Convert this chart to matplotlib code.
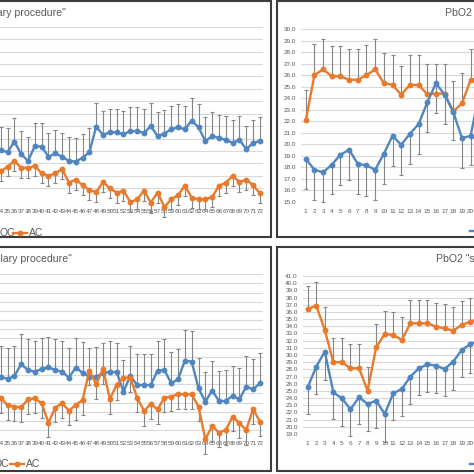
import numpy as np
import matplotlib
matplotlib.use("Agg")
import matplotlib.pyplot as plt
from matplotlib.patches import Rectangle
from matplotlib.lines import Line2D

plt.rcParams['font.family'] = ['Liberation Sans', 'DejaVu Sans']

# ---------------- data ----------------
# left panels (visible part: visits 34..72)
left_x = list(range(34, 73))

tl_oc = [20.07, 19.9, 20.75, 19.75, 19.2, 20.4, 20.35, 19.55, 19.8, 19.55,
         19.2, 19.15, 19.45, 19.9, 21.95, 21.3, 21.5, 21.5, 21.35, 21.6,
         21.6, 21.45, 22.0, 21.2, 21.4, 21.75, 21.9, 21.75, 22.45, 21.9,
         20.8, 21.2, 21.05, 20.9, 20.65, 20.9, 20.15, 20.65, 20.8]
tl_oc_sd = [1.9, 1.93, 1.93, 1.88, 1.93, 1.88, 1.88, 1.88, 1.88, 1.93,
            1.93, 1.93, 1.88, 1.93, 1.88, 1.88, 1.88, 1.9, 1.9, 1.9,
            1.9, 1.9, 1.9, 1.9, 1.93, 1.88, 1.88, 1.88, 1.85, 1.85,
            1.93, 1.9, 1.88, 1.88, 1.88, 1.88, 1.88, 1.88, 1.9]
tl_ac = [18.35, 18.75, 19.2, 18.65, 18.65, 18.8, 18.2, 18.0, 18.2, 18.55,
         17.45, 17.7, 17.25, 16.85, 16.7, 17.5, 17.0, 16.65, 16.8, 15.9,
         16.1, 16.8, 15.85, 16.65, 15.5, 16.1, 16.45, 17.2, 16.25, 16.1,
         16.1, 16.3, 17.2, 17.45, 18.0, 17.5, 17.7, 17.25, 16.6]
tl_ac_sd = [0.8] * len(left_x)

bl_oc = [26.84, 26.58, 26.91, 28.18, 27.56, 27.38, 27.67, 27.85, 27.56, 27.38,
         26.73, 27.82, 27.27, 26.84, 26.84, 27.2, 27.38, 27.31, 25.2, 26.91,
         25.93, 25.93, 25.93, 27.49, 27.56, 26.11, 26.55, 28.58, 28.47, 25.56,
         24.11, 25.31, 24.18, 24.18, 24.76, 24.36, 25.75, 25.45, 26.11]
bl_oc_sd = [3.3, 3.35, 3.27, 3.27, 3.35, 3.38, 3.35, 3.35, 3.35, 3.38,
            3.27, 3.2, 3.31, 3.16, 3.27, 3.27, 3.31, 3.24, 3.45, 3.27,
            3.35, 3.35, 3.35, 3.24, 3.35, 3.38, 3.35, 3.35, 3.35, 3.35,
            3.27, 3.27, 3.31, 3.38, 3.27, 3.38, 3.35, 3.31, 3.3]
bl_ac = [24.47, 23.75, 23.56, 23.49, 24.36, 24.47, 23.93, 21.82, 23.45, 23.93,
         23.13, 23.75, 24.29, 27.49, 26.0, 27.67, 24.4, 25.93, 26.73, 26.73,
         24.55, 23.09, 23.85, 23.27, 24.55, 24.65, 24.95, 24.91, 24.91, 23.56,
         20.0, 21.45, 20.73, 21.02, 22.47, 21.75, 21.02, 23.31, 21.93]
bl_ac_sd = [1.6] * len(left_x)

# right panels (visible part: visits 1..21)
right_x = list(range(1, 22))

tr_ac = [22.07, 26.0, 26.5, 25.9, 25.9, 25.6, 25.6, 26.0, 26.5, 25.3,
         25.15, 24.3, 25.15, 25.15, 24.35, 24.4, 24.4, 22.85, 23.55, 25.6, 25.7]
tr_ac_sd = [2.63, 2.7, 2.6, 2.6, 2.6, 2.65, 2.65, 2.6, 2.6, 2.6,
            2.6, 2.5, 2.6, 2.6, 2.6, 2.6, 2.55, 2.6, 2.6, 2.65, 2.6]
tr_oc = [18.75, 17.8, 17.57, 18.23, 19.1, 19.53, 18.3, 18.17, 17.8, 19.18,
         20.74, 19.96, 20.91, 21.75, 23.63, 25.3, 24.3, 22.8, 20.54, 20.74, 24.5]
tr_oc_sd = [2.62, 2.6, 2.6, 2.53, 2.6, 2.65, 2.6, 2.62, 2.6, 2.58,
            2.59, 2.59, 2.61, 2.57, 2.6, 2.54, 2.52, 2.4, 2.59, 2.57, 2.6]

br_ac = [36.4, 36.87, 33.48, 28.98, 28.98, 28.15, 28.15, 25.04, 31.07, 32.93,
         32.79, 32.09, 34.41, 34.41, 34.41, 33.95, 33.71, 33.39, 34.18, 34.64, 35.0]
br_ac_sd = [3.25, 3.33, 3.25, 3.34, 3.34, 3.34, 3.34, 3.34, 3.25, 3.24,
            3.24, 3.25, 3.25, 3.25, 3.25, 3.34, 3.35, 3.34, 3.34, 3.26, 3.3]
br_oc = [25.5, 28.38, 30.47, 24.8, 23.97, 22.44, 24.11, 23.18, 23.65, 21.79,
         24.67, 25.27, 26.99, 28.15, 28.7, 28.52, 28.05, 29.07, 30.7, 31.49, 32.0]
br_oc_sd = [3.71, 3.85, 3.95, 3.75, 3.81, 3.71, 3.76, 3.76, 3.76, 3.85,
            3.72, 3.71, 3.81, 3.72, 3.8, 3.76, 3.75, 3.94, 3.8, 3.95, 3.8]

left_title = 'PbO2 "axillary procedure"'
right_title = 'PbO2 "saphenous procedure"'
labels = ['OC', 'AC']

BLUE = '#4F86C2'
ORANGE = '#E97A2C'
ERR = '#858585'
GRID = '#D9D9D9'
TXT = '#595959'
EDGE = '#3C3C3C'

W = H = 474.0
fig = plt.figure(figsize=(4.74, 4.74), dpi=100)
fig.patch.set_facecolor('white')


def px_axes(x0, y0, x1, y1):
    # pixel box (top-left origin) -> figure axes
    return fig.add_axes([x0 / W, 1 - y1 / H, (x1 - x0) / W, (y1 - y0) / H])


def frame(x0, y0, x1, y1):
    fig.patches.append(Rectangle((x0 / W, 1 - y1 / H), (x1 - x0) / W, (y1 - y0) / H,
                                 transform=fig.transFigure, facecolor='white',
                                 edgecolor=EDGE, lw=1.5, zorder=-5))


def draw(ax, x, up, up_sd, lo, lo_sd, up_color, lo_color, ylim, xlim, show_y):
    up = np.array(up)
    lo = np.array(lo)
    x = np.array(x)
    # upper series gets plus bars, lower series minus bars
    ax.errorbar(x, up, yerr=[np.zeros(len(x)), up_sd], fmt='none', ecolor=ERR,
                elinewidth=0.8, capsize=1.5, capthick=0.8, zorder=2, clip_on=False)
    ax.errorbar(x, lo, yerr=[lo_sd, np.zeros(len(x))], fmt='none', ecolor=ERR,
                elinewidth=0.8, capsize=1.5, capthick=0.8, zorder=2, clip_on=False)
    ax.plot(x, up, color=up_color, lw=1.7, marker='o', ms=3.2, zorder=3, clip_on=False)
    ax.plot(x, lo, color=lo_color, lw=1.7, marker='o', ms=3.2, zorder=3, clip_on=False)
    ax.set_xlim(*xlim)
    ax.set_ylim(*ylim)
    ax.set_yticks(np.arange(ylim[0], ylim[1] + 0.01, 1.0))
    ax.yaxis.set_major_formatter(matplotlib.ticker.FormatStrFormatter('%.1f'))
    ax.set_xticks(range(int(np.ceil(xlim[0])), int(xlim[1]) + 1))
    ax.grid(axis='y', color=GRID, lw=0.8)
    ax.set_axisbelow(True)
    for s in ax.spines.values():
        s.set_visible(False)
    ax.tick_params(length=0, labelsize=4.6, colors=TXT, pad=4)
    if not show_y:
        ax.tick_params(axis='y', labelleft=False)
    ax.patch.set_alpha(0)


# panel frames
frame(-5, 1, 271, 237)
frame(277, 1, 490, 237)
frame(-5, 247, 271, 471)
frame(277, 247, 490, 471)

# top-left
ax = px_axes(-2.7, 26.7, 263.3, 200.7)
draw(ax, left_x, tl_oc, tl_oc_sd, tl_ac, tl_ac_sd, BLUE, ORANGE, (16, 30), (33.5, 72.5), False)
ax.tick_params(axis='x', pad=6)

# bottom-left
ax = px_axes(-2.7, 274.3, 263.3, 439.3)
draw(ax, left_x, bl_oc, bl_oc_sd, bl_ac, bl_ac_sd, BLUE, ORANGE, (20, 38), (33.5, 72.5), False)
ax.tick_params(axis='x', pad=1.5)

# top-right
ax = px_axes(301.4, 29, 509.7, 202)
draw(ax, right_x, tr_ac, tr_ac_sd, tr_oc, tr_oc_sd, ORANGE, BLUE, (15, 30), (0.5, 24.5), True)
ax.tick_params(axis='x', pad=5)

# bottom-right
ax = px_axes(303.4, 276, 508.8, 434)
draw(ax, right_x, br_ac, br_ac_sd, br_oc, br_oc_sd, ORANGE, BLUE, (19, 41), (0.5, 24.5), True)
ax.tick_params(axis='x', pad=5)

# titles
fig.text(66 / W, 1 - 13 / H, left_title, ha='right', va='center', fontsize=7.6, color=TXT)
fig.text(72 / W, 1 - 259 / H, left_title, ha='right', va='center', fontsize=7.6, color=TXT)
fig.text(445 / W, 1 - 13 / H, right_title, ha='left', va='center', fontsize=7.6, color=TXT)
fig.text(436 / W, 1 - 259 / H, right_title, ha='left', va='center', fontsize=7.6, color=TXT)


# legends (only partly inside the picture)
def legend_item(x0, y, color, label):
    fig.lines.append(Line2D([x0 / W, (x0 + 14) / W], [1 - y / H, 1 - y / H],
                            transform=fig.transFigure, color=color, lw=1.7))
    fig.lines.append(Line2D([(x0 + 7) / W], [1 - y / H], transform=fig.transFigure,
                            color=color, marker='o', ms=3.2, lw=0))
    fig.text((x0 + 16) / W, 1 - y / H, label, ha='left', va='center', fontsize=7.5, color=TXT)


legend_item(-17, 233, BLUE, labels[0])
legend_item(13, 233, ORANGE, labels[1])
legend_item(-22, 464, BLUE, labels[0])
legend_item(10, 464, ORANGE, labels[1])
legend_item(470, 231, BLUE, labels[0])
legend_item(470, 464, BLUE, labels[0])

fig.savefig('out.png', dpi=100)
